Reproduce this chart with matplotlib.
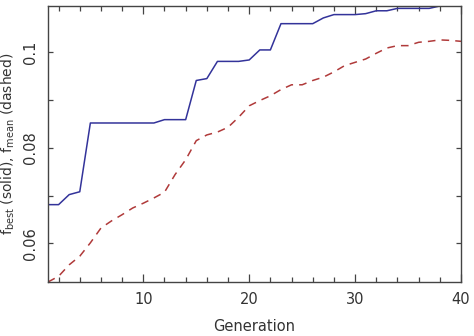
import numpy as np
import matplotlib
matplotlib.use("Agg")
import matplotlib.pyplot as plt
from matplotlib.ticker import MultipleLocator

# generacje i wartosci
generation = list(range(1, 41))
f_best = [0.0681, 0.0681, 0.0702, 0.0708, 0.0852, 0.0852, 0.0852, 0.0852, 0.0852, 0.0852,
          0.0852, 0.0859, 0.0859, 0.0859, 0.0941, 0.0945, 0.0981, 0.0981, 0.0981, 0.0984,
          0.1005, 0.1005, 0.1060, 0.1060, 0.1060, 0.1060, 0.1072, 0.1079, 0.1079, 0.1079,
          0.1081, 0.1087, 0.1087, 0.1092, 0.1092, 0.1092, 0.1092, 0.1097, 0.1097, 0.1097]
f_mean = [0.0519, 0.0531, 0.0555, 0.0573, 0.0601, 0.0632, 0.0647, 0.0660, 0.0674, 0.0684,
          0.0695, 0.0707, 0.0744, 0.0775, 0.0815, 0.0827, 0.0833, 0.0843, 0.0864, 0.0888,
          0.0899, 0.0909, 0.0922, 0.0932, 0.0932, 0.0941, 0.0948, 0.0959, 0.0972, 0.0979,
          0.0986, 0.0998, 0.1009, 0.1014, 0.1014, 0.1021, 0.1023, 0.1026, 0.1025, 0.1023]

plt.rcParams['font.family'] = ['DejaVu Sans']
txt = '#333333'

fig = plt.figure(figsize=(4.74, 3.36), dpi=100)
ax = fig.add_axes([48/474, 1 - 282/336, 413/474, 276/336])

ax.plot(generation, f_best, color='#33339a', lw=1.1)
ax.plot(generation, f_mean, color='#b03a3a', lw=1.1, ls=(0, (5, 4)))

ax.set_xlim(1, 40)
ax.set_ylim(min(f_mean), max(f_best))

ax.xaxis.set_major_locator(MultipleLocator(10))
ax.xaxis.set_minor_locator(MultipleLocator(2))
ax.yaxis.set_minor_locator(MultipleLocator(0.01))
ax.set_yticks([0.06, 0.08, 0.1])
ax.set_yticklabels(['0.06', '0.08', '0.1'], rotation=90, va='center')
ax.set_xticks([10, 20, 30, 40])

ax.tick_params(which='both', direction='in', top=True, right=True, colors='#444444',
               labelcolor=txt, labelsize=10.5, width=0.9)
ax.tick_params(which='major', length=6, pad=7)
ax.tick_params(which='minor', length=3.5)
ax.tick_params(axis='y', which='both', length=3.5)

for s in ax.spines.values():
    s.set_color('#444444')
    s.set_linewidth(1.0)

ax.set_xlabel('Generation', fontsize=10.5, color=txt, labelpad=9)
ax.set_ylabel(r'$\mathregular{f_{best}}$ (solid), $\mathregular{f_{mean}}$ (dashed)',
              fontsize=10, color=txt)
ax.yaxis.set_label_coords(-0.074, 0.5)

fig.savefig('out.png', dpi=100)
